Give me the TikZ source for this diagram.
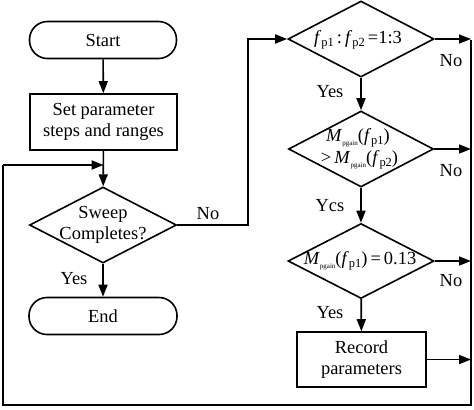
\documentclass[tikz,border=0pt]{standalone}
\usepackage{fontspec}
\setmainfont{Liberation Serif}
\usetikzlibrary{shapes.geometric,arrows.meta}
\newcommand{\sbp}[1]{\raisebox{-0.35ex}{\fontsize{12.5}{12.5}\selectfont #1}}
\newcommand{\sbg}[1]{\raisebox{-0.45ex}{\fontsize{7}{7}\selectfont #1}}
\begin{document}
\begin{tikzpicture}[x=1bp,y=-1bp,
  every node/.style={font=\fontsize{18.5}{21}\selectfont},
  ln/.style={line width=1.6bp},
  arr/.style={ln,-{Triangle[length=12bp,width=9bp]}},
  loopln/.style={line width=2.2bp},
  term/.style={ln,draw,rectangle,rounded corners=18bp,minimum width=147bp,minimum height=37bp,inner sep=0pt},
  procbox/.style={ln,draw,rectangle,inner sep=0pt,align=center},
  dia/.style={ln,draw,diamond,inner sep=0pt,minimum width=146bp,minimum height=76bp},
  txt/.style={align=center,inner sep=0pt},
  lbl/.style={inner sep=0pt}]
\useasboundingbox (0,0) rectangle (474,409);
% left column
\node[term] (start) at (103,40) {Start};
\node[procbox,minimum width=147bp,minimum height=56bp] (set) at (103.5,122) {Set parameter\\steps and ranges};
\node[dia,minimum width=147bp] (sweep) at (103,225) {};
\node[txt] (sweeptxt) at (103,225) {Sweep\\Completes?};
\node[term,minimum width=148bp] (end) at (103,316) {End};
% right column
\node[dia] (d1) at (361,39) {};
\node[txt] (d1t) at (358,40) {\textit{f}\sbp{p1}\,:\,\textit{f}\sbp{p2}\,=1:3};
\node[dia,minimum width=145bp] (d2) at (361,149) {};
\node[txt] (d2t) at (358,149) {\textit{M}\sbg{pgain}(\textit{f}\sbp{p1})\\[1pt]\,>\,\textit{M}\sbg{pgain}(\textit{f}\sbp{p2})};
\node[dia,minimum height=75bp] (d3) at (361,261) {};
\node[txt] (d3t) at (360,261) {\textit{M}\sbg{pgain}(\textit{f}\sbp{p1})\,=\,0.13};
\node[procbox,minimum width=129bp,minimum height=55bp] (rec) at (361.5,359.5) {Record\\parameters};
% loop coordinates
\coordinate (rt) at (471,40);
\coordinate (rb) at (471,405);
\coordinate (lb) at (3,405);
\coordinate (lt) at (3,165);
\coordinate (lin) at (103.5,165);
\coordinate (nx) at (248,225);
\coordinate (ny) at (248,39);
% connectors
\draw[arr] (start) -- (set);
\draw[arr] (set) -- (sweep);
\draw[arr] (sweep) -- (end);
\draw[arr] (sweep.east) -- (nx) -- (ny) -- (d1.west);
\draw[arr] (d1) -- (d2);
\draw[arr] (d2) -- (d3);
\draw[arr] (d3) -- (rec);
\draw[arr] (d1.east) -- (d1.east -| rt);
\draw[arr] (d2.east) -- (d2.east -| rt);
\draw[arr] (d3.east) -- (d3.east -| rt);
\draw[arr] (rec.east) -- (rec.east -| rt);
\draw[loopln] (rt) -- (rb) -- (lb) -- (lt);
\draw[loopln,-{Triangle[length=12bp,width=9bp]}] (lt) -- (lin);
% labels
\node[lbl] (l1) at (74,279) {Yes};
\node[lbl] (l2) at (208,214) {No};
\node[lbl] (l3) at (330,92) {Yes};
\node[lbl] (l4) at (330,206) {Ycs};
\node[lbl] (l5) at (330,313) {Yes};
\node[lbl] (l6) at (451,61) {No};
\node[lbl] (l7) at (451,171) {No};
\node[lbl] (l8) at (451,281) {No};
\end{tikzpicture}
\end{document}
